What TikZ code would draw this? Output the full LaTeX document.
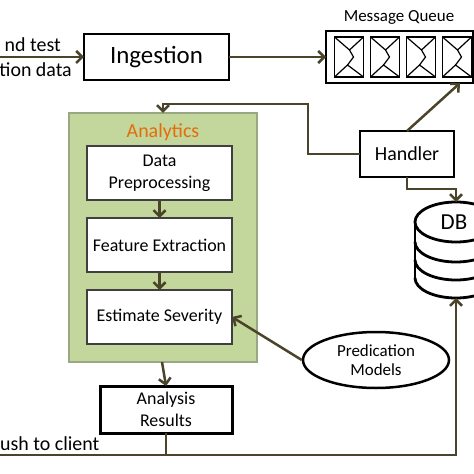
\documentclass[tikz,border=0pt]{standalone}
\usepackage{fontspec}
\setmainfont{Carlito}
\usetikzlibrary{arrows.meta,shapes.geometric,calc}
\definecolor{arr}{HTML}{4A452A}
\definecolor{grn}{HTML}{C3D69B}
\definecolor{grnb}{HTML}{98A882}
\definecolor{org}{HTML}{E46C0A}
\definecolor{inb}{HTML}{3F3F3F}
\tikzset{
  fs25/.style={font=\fontsize{25}{30}\selectfont},
  fs23/.style={font=\fontsize{23}{28}\selectfont},
  fs20/.style={font=\fontsize{20}{25}\selectfont},
  fs18/.style={font=\fontsize{18}{22.5}\selectfont},
  fs17/.style={font=\fontsize{17}{19.5}\selectfont},
  bigbox/.style={draw=black, line width=2.5bp, fill=white, inner sep=0, outer sep=0, align=center},
  inbox/.style={draw=inb, line width=1.3bp, fill=white, inner sep=0, outer sep=0, align=center, fs18,
     minimum width=145bp, minimum height=54bp},
  cell/.style={draw=black, line width=1.2bp, inner sep=0, outer sep=0, minimum width=29bp, minimum height=40bp},
  cellline/.style={draw=black, line width=1.2bp},
  conn/.style={draw=arr, line width=2.5bp, -{Straight Barb[length=6bp,width=12bp]}},
  plain/.style={draw=arr, line width=2.5bp},
  dbline/.style={draw=black, line width=2.8bp},
}
\begin{document}
\begin{tikzpicture}[x=1bp,y=-1bp]
\useasboundingbox (0,0) rectangle (474,474);
\fill[white] (0,0) rectangle (474,474);

% input texts
\node[fs20, anchor=east, inner sep=0] (t1) at (61,45) {nd test};
\node[fs20, anchor=east, inner sep=0] (t2) at (72,70) {tion data};
\coordinate (inp) at (0,57);

% ingestion
\node[bigbox, fs25, minimum width=145bp, minimum height=46bp] (ing) at (156.5,57) {Ingestion};

% message queue
\node[fs17] (mqt) at (399,17) {Message Queue};
\node[bigbox, minimum width=147bp, minimum height=52bp] (mq) at (399.5,57) {};
\foreach \i/\cx in {1/349,2/385,3/421,4/457}{
  \node[cell] (c\i) at (\cx,57) {};
  \begin{scope}[shift={(c\i.north west)}]
    \draw[cellline] (0,0) -- (15,13) -- (29,0);
    \draw[cellline] (15,13) -- (19,20) -- (13,28);
    \draw[cellline] (0,40) -- (13,28) -- (29,40);
  \end{scope}
}

% handler
\node[bigbox, fs20, minimum width=94bp, minimum height=46bp] (han) at (407,154) {Handler};

% analytics
\node[draw=grnb, fill=grn, line width=1.5bp, inner sep=0, outer sep=0, minimum width=188bp, minimum height=249bp] (ana) at (163,237.5) {};
\node[fs20, text=org] (anat) at (163,132) {Analytics};
\node[inbox] (dp) at (159.5,173) {Data\\Preprocessing};
\node[inbox] (fe) at (159.5,245) {Feature Extraction};
\node[inbox] (es) at (159.5,317) {Estimate Severity};

% analysis results
\node[bigbox, fs18, line width=3bp, minimum width=132bp, minimum height=47bp] (ar) at (166,409.5) {Analysis\\Results};

% prediction models
\node[ellipse, draw=black, line width=2.5bp, fill=white, inner sep=0, minimum width=146bp, minimum height=56bp, align=center, fs17] (pm) at (376,360) {Predication\\Models};

% DB
\draw[dbline] (415,222) -- (415,278);
\draw[dbline] (497,222) -- (497,278);
\draw[dbline] (456,222) ellipse [x radius=41bp, y radius=20bp];
\foreach \yy in {242,260,278}
  \draw[dbline] (415,\yy) arc[start angle=180, end angle=360, x radius=41bp, y radius=20bp];
\node[fs23] (db) at (454,222) {DB};
\node[inner sep=0, outer sep=0, minimum width=82bp, minimum height=96bp] (dbn) at (456,250) {};

% push text
\node[fs20, anchor=west, inner sep=0] (push) at (0,444) {ush to client};
\coordinate (pl) at (0,455);

% connectors
\draw[conn] (inp) -- (ing.west);
\draw[conn] (ing.east) -- (mq.west);
\draw[conn] (han.north) -- ($(mq.south east)+(-13,0)$);
\draw[conn] (han.west) -- ++(-52,0) |- ($(ana.north)+(0,-9)$) -- (ana.north);
\draw[conn] (han.south) -- ++(0,12) -| (dbn.north);
\draw[conn] (dp.south) -- (fe.north);
\draw[conn] (fe.south) -- (es.north);
\draw[conn] ($(ana.south)+(-1,0)$) -- (ar.north);
\draw[conn] (pm.west) -- (es.east);
\draw[plain] (ar.south) -- (ar.south |- pl);
\draw[conn] (pl) -| (dbn.south);
\end{tikzpicture}
\end{document}
